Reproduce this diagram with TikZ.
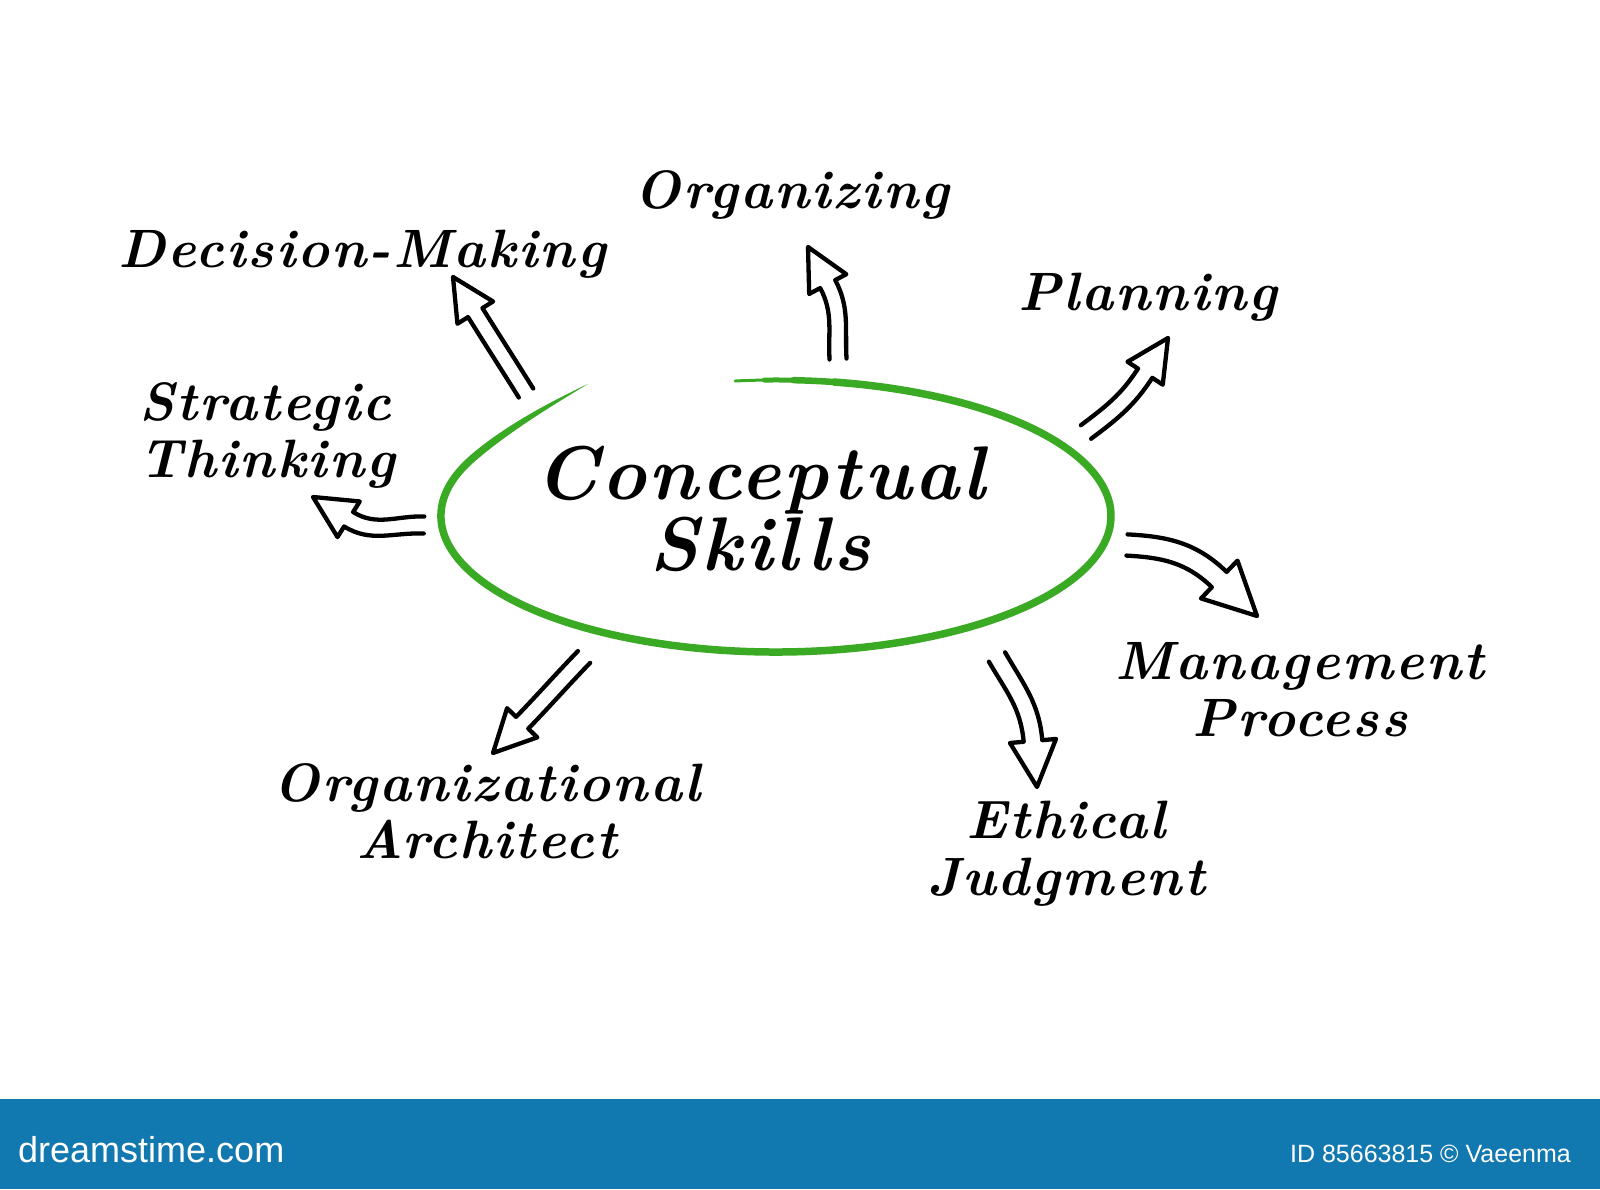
\documentclass[tikz,border=0pt]{standalone}
\usepackage{fontspec}
\newfontfamily\handfont{lmroman10-bolditalic.otf}[LetterSpace=4]
\newfontfamily\barfont{Liberation Sans}
\usetikzlibrary{calc}
\definecolor{ringgreen}{RGB}{58,170,36}
\definecolor{barblue}{RGB}{17,120,176}

% hollow arrow: [scale]{tail}{tail angle}{tip}{tip angle}
\newcommand{\hollowarrow}[5][1]{%
  \pgfmathsetmacro{\shaftw}{8.5*#1}\pgfmathsetmacro{\headw}{21*#1}\pgfmathsetmacro{\headl}{42*#1}
  \pgfmathsetmacro{\aL}{#3+90}\pgfmathsetmacro{\aR}{#3-90}
  \pgfmathsetmacro{\bL}{#5+90}\pgfmathsetmacro{\bR}{#5-90}\pgfmathsetmacro{\bin}{#5+180}
  \draw[hollow] ($(#2)+(\aL:\shaftw)$) to[out=#3,in=\bin] ($(#4)+(\bin:\headl)+(\bL:\shaftw)$)
    -- ($(#4)+(\bin:\headl)+(\bL:\headw)$) -- (#4) -- ($(#4)+(\bin:\headl)+(\bR:\headw)$)
    -- ($(#4)+(\bin:\headl)+(\bR:\shaftw)$) to[out=\bin,in=#3] ($(#2)+(\aR:\shaftw)$);
}

\begin{document}
\begin{tikzpicture}[x=1pt,y=1pt,
    lbl/.style={font=\handfont\fontsize{54}{57}\selectfont, anchor=base, align=center, inner sep=0pt},
    hollow/.style={draw=black, line width=4.3, line join=round, line cap=round},
    ring/.style={draw=ringgreen, line cap=round}]
\fill[white] (0,0) rectangle (1600,1189);
\useasboundingbox (0,0) rectangle (1600,1189);

% centre
\coordinate (ring) at (776,673);
\coordinate (ring-start) at ($(ring)+(155:335 and 136)$);
\coordinate (ring-end) at (588,805);
\foreach \a/\b/\w in {155/440/7.5, 440/447/6.5, 447/452/5, 452/457/3}
  \draw[ring, line width=\w] ($(ring)+(\a:335 and 136)$) arc[start angle=\a, end angle=\b, x radius=335, y radius=136];
\fill[ringgreen] ($(ring-start)+(131:3.75)$) .. controls +(41:45) and +(205:40) .. (ring-end)
  .. controls +(211:40) and +(41:45) .. ($(ring-start)+(-49:3.75)$) -- cycle;
\node[lbl, font=\handfont\fontsize{76}{71}\selectfont] (concept) at (760,618) {Conceptual\\Skills};

% labels (base = last line)
\node[lbl] (decision) at (362,921) {Decision-Making};
\node[lbl] (organizing) at (792,980) {Organizing};
\node[lbl] (planning) at (1148,878) {Planning};
\node[lbl, anchor=base west, align=left] (strategic) at (139,711) {Strategic\\Thinking};
\node[lbl] (management) at (1300,452) {Management\\Process};
\node[lbl] (architect) at (487,330) {Organizational\\Architect};
\node[lbl] (ethical) at (1066,294) {Ethical\\Judgment};

% arrow ends
\coordinate (dm-tail) at (526,796);   \coordinate (dm-tip) at (453,912);
\coordinate (org-tail) at (838,830);  \coordinate (org-tip) at (808,942);
\coordinate (plan-tail) at (1086,757); \coordinate (plan-tip) at (1168,851);
\coordinate (mgt-tail) at (1127,644); \coordinate (mgt-tip) at (1257,573);
\coordinate (oa-tail) at (584,532);   \coordinate (oa-tip) at (493,436);
\coordinate (eth-tail) at (997,532);  \coordinate (eth-tip) at (1037,402);
\coordinate (st-tail) at (424,664);   \coordinate (st-tip) at (313,692);

\hollowarrow{dm-tail}{122}{dm-tip}{122}
\hollowarrow{org-tail}{93}{org-tip}{118}
\hollowarrow{plan-tail}{37}{plan-tip}{57}
\hollowarrow[1.25]{mgt-tail}{-3}{mgt-tip}{-44}
\hollowarrow{oa-tail}{226}{oa-tip}{226}
\hollowarrow[1.1]{eth-tail}{-60}{eth-tip}{-85}
\hollowarrow{st-tail}{178}{st-tip}{148}

% footer bar
\fill[barblue] (0,0) rectangle (1600,90);
\node[anchor=base west, inner sep=0pt, text=white, font=\barfont\fontsize{36}{36}\selectfont] (site) at (18,27) {dreamstime.com};
\node[anchor=base east, inner sep=0pt, text=white, font=\barfont\fontsize{25}{25}\selectfont] (credit) at (1571,27) {ID 85663815 \textcopyright{} Vaeenma};
\end{tikzpicture}
\end{document}
